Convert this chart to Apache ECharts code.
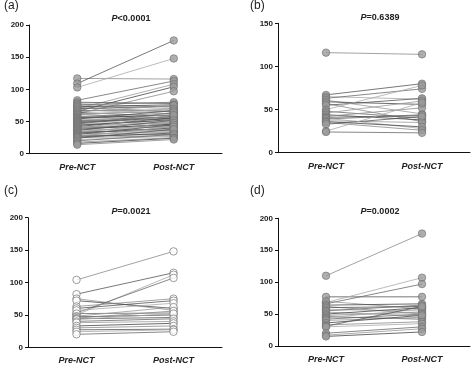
<!DOCTYPE html>
<html><head><meta charset="utf-8">
<script src="https://cdn.jsdelivr.net/npm/echarts@6/dist/echarts.min.js"></script>
<style>html,body{margin:0;padding:0;background:#fff}#c{width:474px;height:370px}</style>
</head><body><div id="c"></div>
<script>
var categories = ['Pre-NCT', 'Post-NCT'];
var titles = ['<0.0001', '=0.6389', '=0.0021', '=0.0002'];
var panelLabels = ['(a)', '(b)', '(c)', '(d)'];
var yTicksA = [0, 50, 100, 150, 200];
var yTicksB = [0, 50, 100, 150];

var preA  = [117,109,103,83,70,66,62,80,78,76,75,73,72,70,68,67,65,64,62,61,60,58,57,56,55,54,53,52,51,50,49,48,47,46,45,44,43,42,41,40,39,38,37,36,35,34,33,32,31,30,29,28,27,26,25,24,22,20,18,16,14];
var postA = [116,176,148,113,108,104,97,78,72,80,70,76,65,74,62,68,75,58,66,55,70,52,63,60,48,67,57,45,61,55,42,58,50,64,47,53,40,56,49,44,60,46,38,52,43,36,48,40,33,45,35,30,42,32,28,38,27,30,25,24,22];

var preB  = [116,67,65,63,61,59,57,55,50,48,46,44,42,41,40,39,37,36,35,33,25,24];
var postB = [114,80,62,74,45,56,36,63,78,40,60,38,52,43,28,44,35,30,26,42,58,23];

var preC  = [104,82,50,53,75,72,63,60,57,52,48,47,45,44,43,40,38,33,30,27,24,20];
var postC = [148,115,112,107,57,60,75,72,68,53,62,50,56,46,52,44,40,37,33,28,27,24];

var preD  = [110,77,68,66,70,64,62,60,57,55,53,50,48,46,44,42,40,36,33,31,30,20,17,15];
var postD = [176,77,107,97,58,66,50,62,55,64,47,60,53,42,58,50,45,48,38,62,35,30,27,22];

var panels = [
  {pre: preA, post: postA, ticks: yTicksA, filled: true},
  {pre: preB, post: postB, ticks: yTicksB, filled: true},
  {pre: preC, post: postC, ticks: yTicksA, filled: false},
  {pre: preD, post: postD, ticks: yTicksA, filled: true}
];

var grids = [
  {left: 29, top: 25, width: 193, height: 128.7},
  {left: 278, top: 23.3, width: 192, height: 129.4},
  {left: 28, top: 217.7, width: 194, height: 129.6},
  {left: 278, top: 218.3, width: 192, height: 127.7}
];
var titlePos = [[126, 9], [375, 8], [126, 202], [375, 202]];
var labelPos = [[4, 0], [250, 0], [4, 185], [250, 185]];

var lineColors = ['#8a8a8a', '#555', '#aaa', '#6a6a6a', '#999', '#444'];
var font = 'Liberation Sans, Arial, sans-serif';

var xAxes = [], yAxes = [], series = [], titleArr = [], graphics = [];
panels.forEach(function (p, i) {
  var ticks = p.ticks;
  xAxes.push({
    gridIndex: i, type: 'category', data: categories, boundaryGap: true,
    axisLine: {lineStyle: {color: '#111', width: 1}},
    axisTick: {alignWithLabel: true, length: 3, lineStyle: {color: '#111'}},
    axisLabel: {fontFamily: font, fontSize: 9, fontWeight: 'bold', fontStyle: 'italic', color: '#222', margin: 9},
    splitLine: {show: false}
  });
  yAxes.push({
    gridIndex: i, type: 'value', min: ticks[0], max: ticks[ticks.length - 1], interval: ticks[1] - ticks[0],
    axisLine: {show: true, lineStyle: {color: '#111', width: 1}},
    axisTick: {show: true, length: 3, lineStyle: {color: '#111'}},
    axisLabel: {fontFamily: font, fontSize: 8, fontWeight: 'bold', color: '#222', margin: 5},
    splitLine: {show: false}
  });
  var pts = [];
  for (var k = 0; k < p.pre.length; k++) {
    series.push({
      type: 'line', xAxisIndex: i, yAxisIndex: i, symbol: 'none', silent: true,
      data: [[0, p.pre[k]], [1, p.post[k]]],
      lineStyle: {color: lineColors[k % lineColors.length], width: 0.8},
      z: 2
    });
    pts.push([0, p.pre[k]]);
    pts.push([1, p.post[k]]);
  }
  series.push({
    type: 'scatter', xAxisIndex: i, yAxisIndex: i, symbol: 'circle', symbolSize: 7.5, silent: true,
    data: pts, z: 3,
    itemStyle: p.filled ? {color: '#9b9b9b', borderColor: '#6e6e6e', borderWidth: 0.8}
                        : {color: '#fff', borderColor: '#777', borderWidth: 0.9}
  });
  titleArr.push({
    text: '{i|P}{n|' + titles[i] + '}', left: titlePos[i][0], top: titlePos[i][1],
    textAlign: 'center',
    textStyle: {rich: {
      i: {fontFamily: font, fontSize: 9, fontWeight: 'bold', fontStyle: 'italic', color: '#222'},
      n: {fontFamily: font, fontSize: 9, fontWeight: 'bold', color: '#222'}
    }}
  });
  graphics.push({
    type: 'text', left: labelPos[i][0], top: labelPos[i][1],
    style: {text: panelLabels[i], font: '12px ' + font, fill: '#222'}
  });
});

var chart = echarts.init(document.getElementById('c'), null, {renderer: 'canvas'});
chart.setOption({
  animation: false,
  backgroundColor: '#fff',
  grid: grids,
  xAxis: xAxes,
  yAxis: yAxes,
  title: titleArr,
  graphic: graphics,
  series: series
});
</script></body></html>
